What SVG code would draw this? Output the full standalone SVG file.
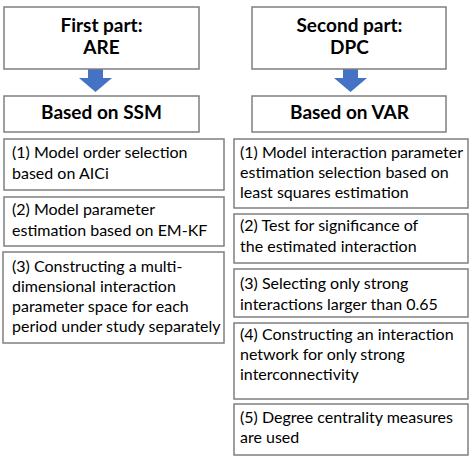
<svg xmlns="http://www.w3.org/2000/svg" width="474" height="462" viewBox="0 0 474 462">
<style>
.box{fill:#fff;stroke:#7f7f7f;stroke-width:1.5}
.t{font-family:Lato,"Liberation Sans",sans-serif;font-size:16px;fill:#000}
.h{font-family:Lato,"Liberation Sans",sans-serif;font-size:19px;font-weight:bold;fill:#000;text-anchor:middle}
.arr{fill:#4472c4}
</style>
<rect width="474" height="462" fill="#fff"/>
<g id="connectors">
<path class="arr" d="M88,69 H103 V78 H112 L95.5,92 L79,78 H88 Z"/>
<path class="arr" d="M343,69 H358 V78 H367 L350.5,92 L334,78 H343 Z"/>
</g>
<g id="first-part"><rect class="box" x="4" y="7" width="195" height="62"/><text class="h" x="101.5" y="32">First part:</text><text class="h" x="101.5" y="54">ARE</text></g>
<g id="ssm"><rect class="box" x="4" y="96" width="195" height="36"/><text class="h" x="101.5" y="119">Based on SSM</text></g>
<g id="l1"><rect class="box" x="4" y="139" width="220" height="51"/><text class="t" x="12" y="158">(1) Model order selection</text><text class="t" x="12" y="179">based on AICi</text></g>
<g id="l2"><rect class="box" x="4" y="197" width="220" height="49"/><text class="t" x="12" y="215">(2) Model parameter</text><text class="t" x="12" y="236">estimation based on EM-KF</text></g>
<g id="l3"><rect class="box" x="3" y="252" width="221" height="91"/><text class="t" x="12" y="272">(3) Constructing a multi-</text><text class="t" x="12" y="292">dimensional interaction</text><text class="t" x="12" y="312">parameter space for each</text><text class="t" x="12" y="332">period under study separately</text></g>
<g id="second-part"><rect class="box" x="252" y="7" width="194" height="62"/><text class="h" x="349.5" y="32">Second part:</text><text class="h" x="349.5" y="54">DPC</text></g>
<g id="var"><rect class="box" x="252" y="96" width="194" height="36"/><text class="h" x="349.5" y="119">Based on VAR</text></g>
<g id="r1"><rect class="box" x="234" y="139" width="234" height="69"/><text class="t" x="240" y="158">(1) Model interaction parameter</text><text class="t" x="240" y="178">estimation selection based on</text><text class="t" x="240" y="198">least squares estimation</text></g>
<g id="r2"><rect class="box" x="234" y="214" width="234" height="49"/><text class="t" x="240" y="231">(2) Test for significance of</text><text class="t" x="240" y="252">the estimated interaction</text></g>
<g id="r3"><rect class="box" x="234" y="269" width="234" height="48"/><text class="t" x="240" y="289">(3) Selecting only strong</text><text class="t" x="240" y="310">interactions larger than 0.65</text></g>
<g id="r4"><rect class="box" x="234" y="323" width="234" height="76"/><text class="t" x="240" y="340">(4) Constructing an interaction</text><text class="t" x="240" y="360">network for only strong</text><text class="t" x="240" y="380">interconnectivity</text></g>
<g id="r5"><rect class="box" x="234" y="404" width="234" height="51"/><text class="t" x="240" y="423">(5) Degree centrality measures</text><text class="t" x="240" y="443">are used</text></g>
</svg>
